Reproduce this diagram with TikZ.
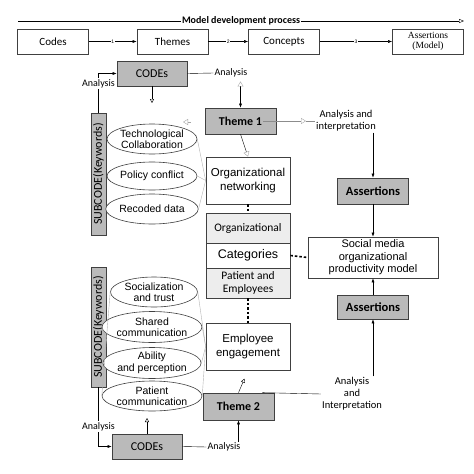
\documentclass[tikz,border=0pt]{standalone}
\usepackage{fontspec}
\setmainfont{Liberation Sans}
\newfontfamily\calfont{Carlito}
\newfontfamily\timesfont{Liberation Serif}
\usetikzlibrary{positioning,arrows.meta,shapes.geometric}

\begin{document}
\begin{tikzpicture}[x=1pt,y=-1pt,
	box/.style={draw=black!75,line width=0.7pt,fill=white,inner sep=0pt,minimum width=71pt,minimum height=25pt,align=center,font=\calfont\fontsize{11}{12}\selectfont},
	gbox/.style={box,fill=black!27,font=\calfont\bfseries\fontsize{12}{13}\selectfont},
	oval/.style={ellipse,draw=black!75,line width=0.6pt,fill=white,inner sep=0pt,minimum width=87pt,minimum height=30pt,align=center,font=\fontsize{10.5}{11.5}\selectfont},
	note/.style={font=\calfont\fontsize{10}{11}\selectfont,inner sep=1pt,align=center},
	tip/.style={-{Latex[length=4pt,width=3pt]}},
	otip/.style={-{Triangle[open,length=4pt,width=4pt]}},
	gtip/.style={-{Triangle[open,length=5pt,width=6pt,color=black!35]}},
	link/.style={draw=black!30,line width=0.4pt},
	dots/.style={line width=1.6pt,dash pattern=on 2.5pt off 2pt}]

	\useasboundingbox (0,0) rectangle (474,474);

	\coordinate (m0) at (18,21);
	\coordinate (m1) at (464,21);
	\draw[-{Triangle[open,length=5pt,width=4pt]}] (m0) -- node[fill=white,inner sep=1pt,font=\calfont\bfseries\fontsize{10}{11}\selectfont] (md) {Model development process} (m1);

	\node[box] (c0) at (53,41.5) {Codes};
	\node[box] (c1) at (172.5,41.5) {Themes};
	\node[box] (c2) at (284,41.5) {Concepts};
	\node[box,font=\timesfont\fontsize{9.5}{10}\selectfont] (c3) at (428,41.5) {Assertions\\(Model)};
	\path[tip,every node/.style={fill=white,inner sep=0.5pt,font=\fontsize{5}{5}\selectfont}]
	(c0) edge node {1} (c1)
	(c1) edge node {2} (c2)
	(c2) edge node {3} (c3);

	\node[gbox,minimum width=70pt,font=\calfont\fontsize{12}{13}\selectfont] (k0) at (152,73.5) {CODEs};
	\node[gbox,minimum height=26pt] (t1) at (240.5,121) {Theme 1};
	\node[box,minimum width=84pt,minimum height=47pt,font=\fontsize{11.5}{14}\selectfont] (n1) at (248,180.5) {Organizational\\networking};
	\node[box,minimum width=84pt,minimum height=85pt,font=\fontsize{12.5}{14}\selectfont] (cat) at (248,255.5) {Categories};
	\node[box,fill=black!7,minimum width=84pt,minimum height=30pt,anchor=north,font=\calfont\fontsize{11.5}{13}\selectfont] (cat1) at (cat.north) {Organizational};
	\node[box,fill=black!7,minimum width=84pt,minimum height=30pt,anchor=south,font=\calfont\fontsize{11.5}{13}\selectfont] (cat2) at (cat.south) {Patient and\\Employees};
	\node[box,minimum width=84pt,minimum height=47pt,font=\fontsize{11.5}{14}\selectfont] (n2) at (248,346.5) {Employee\\engagement};
	\node[gbox,minimum height=27pt] (t2) at (238.5,406.5) {Theme 2};
	\node[gbox,minimum width=70pt,font=\calfont\fontsize{12}{13}\selectfont] (k1) at (147,446.5) {CODEs};

	\node[gbox,minimum height=26pt,font=\calfont\bfseries\fontsize{12.5}{13}\selectfont] (a1) at (373,191) {Assertions};
	\node[box,minimum width=130pt,minimum height=41pt,font=\fontsize{11}{12.5}\selectfont] (sm) at (373,257.5) {Social media\\organizational\\productivity model};
	\node[gbox,minimum height=24pt,font=\calfont\bfseries\fontsize{12.5}{13}\selectfont] (a2) at (373,307) {Assertions};

	\node[box,fill=black!27,minimum width=122pt,minimum height=15pt,rotate=90,font=\calfont\fontsize{12}{12}\selectfont] (s0) at (98.5,174) {SUBCODE(Keywords)};
	\node[box,fill=black!27,minimum width=120pt,minimum height=15pt,rotate=90,font=\calfont\fontsize{12}{12}\selectfont] (s1) at (98.5,327) {SUBCODE(Keywords)};

	\node[oval] (e1) at (152,139) {Technological\\Collaboration};
	\node[oval,minimum height=28pt] (e2) at (152,176) {Policy conflict};
	\node[oval] (e3) at (152,209) {Recoded data};
	\node[oval] (e4) at (154,292) {Socialization\\and trust};
	\node[oval,minimum width=88pt,minimum height=31pt] (e5) at (152,327) {Shared\\communication};
	\node[oval,minimum width=88pt,minimum height=31pt] (e6) at (152,363) {Ability\\and perception};
	\node[oval,minimum width=88pt] (e7) at (152,396) {Patient\\communication};

	\draw[link] (e1.east) -- (n1.west);
	\draw[link] (e2.east) -- (n1.west);
	\draw[link] (e3.east) -- (n1.west);
	\draw[link] (e4.east) -- (n2.west);
	\draw[link] (e5.east) -- (n2.west);
	\draw[link] (e6.east) -- (n2.west);
	\draw[link] (e7.east) -- (n2.west);
	\draw[link] ([yshift=-13pt]s1.south) -- (e4.west);
	\draw[link] ([yshift=-13pt]s1.south) -- (e5.west);
	\draw[link] ([yshift=-13pt]s1.south) -- (e6.west);
	\draw[link] ([yshift=-13pt]s1.south) -- (e7.west);

	\draw[tip] (s0.east) |- node[note,fill=white,pos=0.37] (an0) {Analysis} (k0.west);
	\node[note] (an1) at (231,73) {Analysis};
	\draw (k0.east) -- (an1.west);
	\draw[{Triangle[open,length=5pt,width=6pt,color=black!35]}-{Latex[length=4pt,width=3pt]},shorten <=3pt] (t1.north |- an1.south) -- (t1.north);
	\coordinate (ka) at (152,103);
	\draw[otip] (k0.south) -- (ka);
	\draw[gtip] (t1.south) -- (n1.north);
	\coordinate (g0a) at (191,122);
	\coordinate (g0b) at (183,122);
	\draw[gtip,draw=black!35] (g0a) -- (g0b);

	\node[note,font=\calfont\fontsize{10.5}{12}\selectfont] (ai1) at (346,121) {Analysis and\\interpretation};
	\coordinate (g1) at (306,121);
	\draw[gtip,draw=black!45] ([xshift=-13pt]t1.east) -- (g1);
	\draw[draw=black!45] (g1) -- (ai1.west);
	\draw[tip] (a1.north |- ai1.south) -- (a1.north);
	\draw[tip] (a1) -- (sm);
	\draw[tip] (a2) -- (sm);

	\draw[dots] (n1.south) -- (cat.north);
	\draw[dots] (cat2.south) -- (n2.north);
	\draw[dots] (cat.east) -- (sm.west);

	\node[note,font=\calfont\fontsize{10.5}{12}\selectfont] (ai2) at (352,394) {Analysis\\and\\Interpretation};
	\draw[tip] (a2.south |- ai2.north) -- (a2.south);
	\draw ([xshift=-12pt]t2.north east) -- (ai2.west);
	\draw[otip,shorten >=9pt] (t2.north) -- (n2.south);
	\node[note] (an3) at (224,447) {Analysis};
	\draw (k1.east) -- (an3.west);
	\draw[tip] (t2.south |- an3.north) -- (t2.south);
	\coordinate (kb) at (147,418);
	\draw[otip] (k1.north) -- (kb);
	\draw[tip] (s1.west) |- node[note,fill=white,pos=0.33] (an2) {Analysis} (k1.west);
\end{tikzpicture}
\end{document}
